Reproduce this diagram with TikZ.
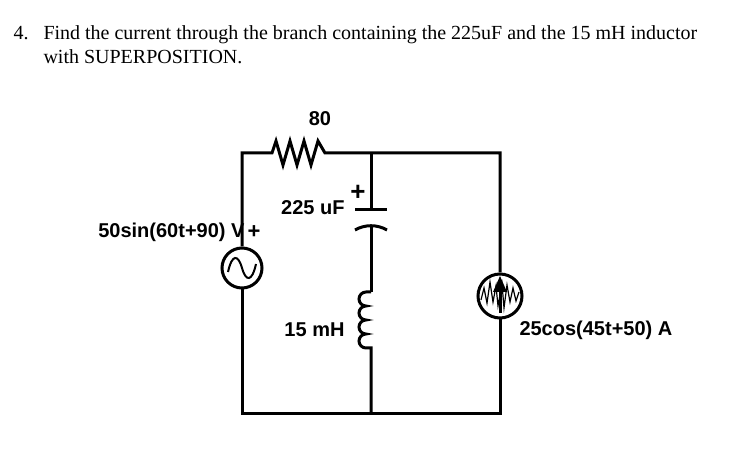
\documentclass[tikz,border=0pt]{standalone}
\usepackage{fontspec}
\setmainfont{Liberation Serif}
\newfontfamily\lab{Liberation Sans}
\begin{document}
\begin{tikzpicture}[x=1pt,y=-1pt,line width=3pt,
  wire/.style={line width=3pt,line join=miter},
  lbl/.style={font=\lab\bfseries\fontsize{20}{22}\selectfont,inner sep=0pt},
  ttl/.style={font=\fontsize{20}{22}\selectfont,inner sep=0pt,anchor=base west}]
\useasboundingbox (0,0) rectangle (732,454);
\node[ttl] (n4) at (12,40) {4.};
\node[ttl] (t1) at (42,40) {Find the current through the branch containing the 225uF and the 15 mH inductor};
\node[ttl] (t2) at (42,64) {with SUPERPOSITION.};
% nodes
\coordinate (tl) at (242,153);
\coordinate (tm) at (371,153);
\coordinate (tr) at (500,153);
\coordinate (bl) at (242,414);
\coordinate (bm) at (371,414);
\coordinate (br) at (500,414);
\node[circle,draw,line width=3pt,minimum size=40pt,inner sep=0pt] (vs) at (242,268) {};
\node[circle,draw,line width=3pt,minimum size=44pt,inner sep=0pt] (cs) at (500,296) {};
% wires
\draw[wire] (vs.north) -- (tl) -- (272,153) -- (276,141) -- (283,165) -- (290,141) -- (297,165) -- (304,141) -- (311,165) -- (318,141) -- (325,153) -- (tr) -- (cs.north);
\draw[wire] (cs.south) -- (br) -- (bl) -- (vs.south);
\draw[wire] (tm) -- (371,210);
\draw[wire] (355,210) -- (387,210);
\draw[wire] (355,230) arc[start angle=-120,end angle=-60,radius=32];
\draw[wire] (371,226) -- (371,292);
\draw[wire] (371,292) -- (366,292)
  arc[start angle=270,end angle=90,radius=7]
  arc[start angle=270,end angle=90,radius=7]
  arc[start angle=270,end angle=90,radius=7]
  arc[start angle=270,end angle=90,radius=7] -- (371,348) -- (bm);
% sine in voltage source
\draw[line width=2pt] (228,272) .. controls (232,254) and (238,254) .. (242,268) .. controls (246,282) and (252,282) .. (256,264);
% current source interior
\draw[line width=1.2pt] (481,300) -- (484,288) -- (487,303) -- (490,282) -- (493,302) -- (496,286) -- (498,306) -- (502,284) -- (504,308) -- (507,285) -- (510,302) -- (513,288) -- (516,301) -- (519,292);
\draw[line width=3pt] (500,313) -- (500,290);
\fill (493,292) -- (500,276) -- (507,292) -- cycle;
% labels
\node[lbl,anchor=south] (r80) at (320,127) {80};
\node[lbl,anchor=east] (lc) at (346,208) {225 uF};
\node[lbl] (pc) at (358,193) {\fontsize{26}{26}\selectfont +};
\node[lbl,anchor=east] (ll) at (346,330) {15 mH};
\node[lbl,anchor=east] (lv) at (246,232) {50sin(60t+90) V};
\node[lbl] (pv) at (254,232) {\fontsize{22}{22}\selectfont +};
\node[lbl,anchor=west] (li) at (518,330) {25cos(45t+50) A};
\end{tikzpicture}
\end{document}
